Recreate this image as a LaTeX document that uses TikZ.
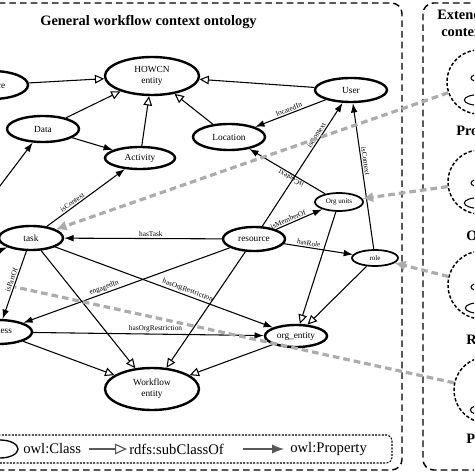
\documentclass[tikz,border=0pt]{standalone}
\usepackage{fontspec}
\setmainfont{Liberation Serif}
\usetikzlibrary{shapes.geometric,arrows.meta}
\begin{document}
\begin{tikzpicture}[x=0.75pt,y=-0.75pt,
  cls/.style={ellipse, draw, fill=white, line width=1.8pt, inner sep=0pt, align=center, font=\fontsize{7}{8}\selectfont},
  smallcls/.style={cls, line width=1.3pt, font=\fontsize{5.3}{6}\selectfont},
  sz/.style 2 args={minimum width={#1*1.5pt}, minimum height={#2*1.5pt}},
  prop/.style={line width=0.8pt, -{Latex[length=7pt,width=5pt]}},
  sub/.style={line width=0.8pt, -{Triangle[open,length=7pt,width=6.5pt]}},
  elab/.style={font=\fontsize{5.5}{6}\selectfont, inner sep=1pt, sloped, above},
  ctx/.style={draw=gray!65, line width=2.4pt, dash pattern=on 5pt off 3pt},
  ctxarrow/.style={ctx, -{Latex[length=8pt,width=8pt]}},
  bigbox/.style={draw, line width=1.1pt, dash pattern=on 5pt off 3pt, rounded corners=8pt},
  legbox/.style={draw, line width=0.8pt, dash pattern=on 1.5pt off 1pt, rounded corners=4pt},
  extcirc/.style={circle, draw, line width=1.1pt, dash pattern=on 2.5pt off 1.5pt, inner sep=0pt},
  mini/.style={ellipse, draw, line width=0.8pt, inner sep=0pt},
  ttl/.style={font=\bfseries\fontsize{10.8}{12.7}\selectfont, inner sep=0pt},
  legtxt/.style={font=\fontsize{11}{13}\selectfont, inner sep=0pt, anchor=west},
  legarrowsub/.style={draw=gray!70!black, line width=0.9pt, -{Triangle[open,length=9pt,width=8pt]}},
  legarrowprop/.style={draw=gray!70!black, fill=gray!70!black, line width=0.9pt, -{Latex[length=9pt,width=7pt]}}
]
\useasboundingbox (0,0) rectangle (474,474);
\clip (0,0) rectangle (474,474);

% frames
\draw[bigbox] (-20,3) rectangle (402,470);
\draw[bigbox] (423,3) rectangle (520,470);
\draw[legbox] (-10,435) rectangle (392,463);

% titles
\node[ttl, anchor=base] (t1) at (148.5,26) {General workflow context ontology};
\node[ttl, anchor=base west] (t2a) at (437,20) {Extended workflow};
\node[ttl, anchor=base west] (t2b) at (441,37) {context ontology};

% classes
\node[cls, sz={36}{14}] (dev) at (-8,85) {Device};
\node[cls, sz={47}{19}] (howcn) at (152,76) {HOWCN\\entity};
\node[cls, sz={36}{13}] (data) at (43,129) {Data};
\node[cls, sz={35}{11}] (act) at (140,158) {Activity};
\node[cls, sz={36}{13}] (loc) at (229,137) {Location};
\node[cls, sz={36}{12}] (user) at (351,90) {User};
\node[smallcls, sz={24}{9}] (org) at (339,202) {Org units};
\node[smallcls, sz={23}{8}] (role) at (375,258) {role};
\node[cls, sz={31}{12}] (res) at (254,239) {resource};
\node[cls, sz={32}{12}] (task) at (31,238) {task};
\node[cls, sz={34}{12}] (proc) at (-2,332) {process};
\node[cls, sz={31}{11}] (orgent) at (296,336) {org\_entity};
\node[cls, sz={47}{21}] (wf) at (152,389) {Workflow\\entity};

\coordinate (dl) at (-22,215);
\coordinate (tl) at (-30,262);

% subClassOf
\draw[sub] (dev) -- (howcn);
\draw[sub] (data) -- (howcn);
\draw[sub] (act) -- (howcn);
\draw[sub] (loc) -- (howcn);
\draw[sub] (user) -- (howcn);
\draw[sub] (task) -- (wf);
\draw[sub] (proc) -- (wf);
\draw[sub] (res) -- (wf);
\draw[sub] (orgent) -- (wf);
\draw[sub] (org) -- (orgent);
\draw[sub] (role) -- (orgent);

% properties
\draw[prop] (dl) -- (data);
\draw[prop] (tl) -- (task);
\draw[prop] (data) -- (act);
\draw[prop] (task) -- node[elab, pos=0.36] (l1) {isContext} (act);
\draw[prop] (user) -- node[elab, pos=0.5] (l2) {locatedIn} (loc);
\draw[prop] (org) -- node[elab, allow upside down, pos=0.42] (l3) {isContext} (loc);
\draw[prop] (res) -- node[elab, pos=0.72] (l4) {isContext} (user);
\draw[prop] (role) -- node[elab, pos=0.6] (l5) {isContext} (user);
\draw[prop] (res) -- node[elab, pos=0.3] (l6) {isMemberOf} (org);
\draw[prop] (res) -- node[elab, pos=0.35] (l7) {hasRole} (role);
\draw[prop] (res) -- node[elab, pos=0.45] (l8) {hasTask} (task);
\draw[prop] (res) -- node[elab, pos=0.6] (l9) {engagedIn} (proc);
\draw[prop] (task) -- node[elab, pos=0.6] (l10) {hasOrgRestriction} (orgent);
\draw[prop] (proc) -- node[elab, pos=0.53] (l11) {hasOrgRestriction} (orgent);
\draw[prop] (task) -- node[elab, pos=0.45] (l12) {isPartOf} (proc);

% extension ontologies
\node[extcirc, minimum size=48pt] (c1) at (479,82) {};
\node[extcirc, minimum size=48pt] (c2) at (480,182) {};
\node[extcirc, minimum size=51pt] (c3) at (482,285) {};
\node[extcirc, minimum size=49.5pt] (c4) at (487,390) {};
\node[mini, minimum width=15pt, minimum height=6pt] (m1a) at (481,78) {};
\node[mini, minimum width=22pt, minimum height=8pt] (m1b) at (479,100) {};
\node[mini, minimum width=15pt, minimum height=6pt] (m2a) at (481,183) {};
\node[mini, minimum width=22pt, minimum height=8pt] (m2b) at (479,203) {};
\node[mini, minimum width=15pt, minimum height=6pt] (m3a) at (481,287) {};
\node[mini, minimum width=22pt, minimum height=8pt] (m3b) at (480,308) {};
\node[mini, minimum width=22pt, minimum height=8pt] (m4a) at (485,410) {};
\node[ttl, anchor=base west] (e1) at (456,136) {Process};
\node[ttl, anchor=base west] (e2) at (466,240) {Organization};
\node[ttl, anchor=base west] (e3) at (466,344) {Role};
\node[ttl, anchor=base west] (e4) at (466,443) {Product};

\coordinate (gp) at (15,287);
\draw[ctxarrow] (c1) -- (task);
\draw[ctxarrow] (c2) -- (org);
\draw[ctxarrow] (c3) -- (role);
\draw[ctx] (c4) -- (gp);

% legend
\node[ellipse, draw, line width=1pt, minimum width=27pt, minimum height=13.5pt] (lgc) at (0,449) {};
\node[legtxt] (lg1) at (23,449) {owl:Class};
\coordinate (la1) at (89,449);
\coordinate (la2) at (127,449);
\draw[legarrowsub] (la1) -- (la2);
\node[legtxt] (lg2) at (129,449) {rdfs:subClassOf};
\coordinate (lb1) at (243,449);
\coordinate (lb2) at (284,449);
\draw[legarrowprop] (lb1) -- (lb2);
\node[legtxt] (lg3) at (290,449) {owl:Property};
\end{tikzpicture}
\end{document}
